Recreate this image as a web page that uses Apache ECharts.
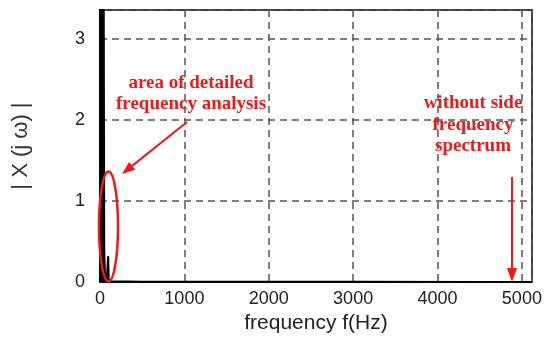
<!DOCTYPE html>
<html><head><meta charset="utf-8">
<script src="https://cdn.jsdelivr.net/npm/echarts@6/dist/echarts.min.js"></script>
<style>html,body{margin:0;padding:0;background:#fff}#c{width:550px;height:339px}</style>
</head><body><div id="c"></div>
<script>
// Spectrum |X(jw)| versus frequency (Hz)
const freqHz = [0, 4, 20, 44, 50, 60, 80, 94, 97, 101, 104, 140, 500, 1500, 3000, 4500, 5120];
const amplitude = [0, 3.6, 3.6, 3.6, 0.4, 0.06, 0.03, 0.02, 0.32, 0.32, 0.02, 0.01, 0.005, 0.004, 0.003, 0.002, 0];
const xTicks = [0, 1000, 2000, 3000, 4000, 5000];
const yTicks = [0, 1, 2, 3];
const xMax = 5120, yMax = 3.36;
const noteLeft = ['area of detailed', 'frequency analysis'];
const noteRight = ['without side', 'frequency', 'spectrum'];

const RED = '#f01818';
const chart = echarts.init(document.getElementById('c'), null, {renderer: 'canvas'});
const data = freqHz.map((f, i) => [f, amplitude[i]]);
const axisFont = 'Liberation Sans, Arial, sans-serif';
const serif = 'Liberation Serif, Times New Roman, serif';

function arrow(x1, y1, x2, y2, len, half) {
  const dx = x2 - x1, dy = y2 - y1, L = Math.hypot(dx, dy);
  const ux = dx / L, uy = dy / L, px = -uy, py = ux;
  const bx = x2 - ux * len, by = y2 - uy * len;
  return [
    {type: 'line', shape: {x1, y1, x2: bx, y2: by}, style: {stroke: RED, lineWidth: 2}, z: 100},
    {type: 'polygon', shape: {points: [[x2, y2], [bx + px * half, by + py * half], [bx - px * half, by - py * half]]}, style: {fill: RED}, z: 100}
  ];
}
function textLines(lines, cx, cy0, lh) {
  return lines.map((t, i) => ({
    type: 'text', x: cx, y: cy0 + i * lh, z: 100,
    style: {text: t, fill: RED, font: 'bold 19px ' + serif, textAlign: 'center', textVerticalAlign: 'middle'}
  }));
}

chart.setOption({
  animation: false,
  grid: {left: 100, top: 10, right: 18, bottom: 56, show: true, borderColor: '#000', borderWidth: 1.5, backgroundColor: 'transparent'},
  xAxis: {
    type: 'value', min: 0, max: xMax, interval: 1000,
    name: 'frequency f(Hz)', nameLocation: 'middle', nameGap: 26,
    nameTextStyle: {fontFamily: axisFont, fontSize: 21, color: '#222'},
    axisLine: {show: true, lineStyle: {color: '#000', width: 1.5}},
    axisTick: {show: false},
    axisLabel: {fontFamily: axisFont, fontSize: 18, color: '#222', margin: 8, showMaxLabel: false,
      formatter: v => xTicks.indexOf(v) >= 0 ? String(v) : ''},
    splitLine: {show: true, lineStyle: {color: '#555', type: [7, 5], width: 1.5}}
  },
  yAxis: {
    type: 'value', min: 0, max: yMax, interval: 1,
    name: '| X (j ω) |', nameLocation: 'middle', nameGap: 68, nameRotate: 90,
    nameTextStyle: {fontFamily: axisFont, fontSize: 22, color: '#333'},
    axisLine: {show: true, lineStyle: {color: '#000', width: 1.5}},
    axisTick: {show: false},
    axisLabel: {fontFamily: axisFont, fontSize: 18, color: '#222', margin: 15, showMaxLabel: false,
      formatter: v => yTicks.indexOf(v) >= 0 ? String(v) : ''},
    splitLine: {show: true, lineStyle: {color: '#555', type: [7, 5], width: 1.5}}
  },
  series: [{
    type: 'line', data: data, symbol: 'none', clip: true,
    lineStyle: {color: '#000', width: 2}, areaStyle: {color: '#000', opacity: 1}, z: 5
  }],
  graphic: [].concat(
    textLines(noteLeft, 191, 83, 21.5),
    textLines(noteRight, 473, 103, 21.7),
    arrow(187, 122, 122, 174, 13, 5),
    arrow(512, 177, 512, 282, 14, 5),
    [{type: 'ellipse', shape: {cx: 108.5, cy: 226.5, rx: 9.5, ry: 55}, style: {stroke: RED, lineWidth: 2.5, fill: null}, z: 100}]
  )
});
</script></body></html>
